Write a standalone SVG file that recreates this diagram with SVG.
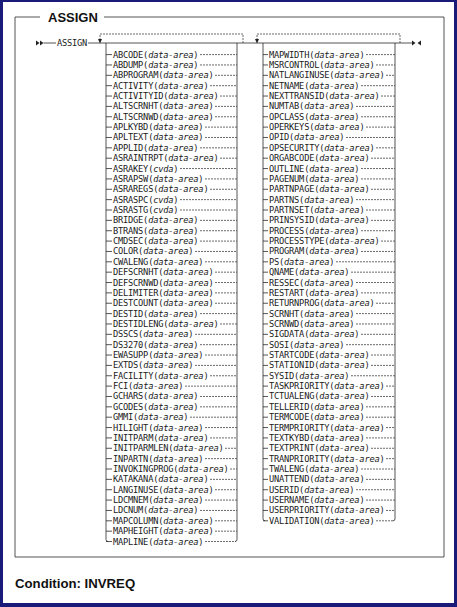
<svg xmlns="http://www.w3.org/2000/svg" width="457" height="607" viewBox="0 0 457 607">
<style>
.t{font-family:"DejaVu Sans Mono","Liberation Mono",monospace;font-size:8.7px;letter-spacing:-0.21px;fill:#1a1a1a}
.i{font-style:italic}
.ln{stroke:#2a2a2a;stroke-width:0.8;fill:none}
.tr{stroke:#444;stroke-width:0.8;fill:none;stroke-dasharray:2 1}
.ar{fill:#222}
.h{font-family:"Liberation Sans",Arial,sans-serif;font-weight:bold;fill:#111}
</style>
<defs>
<path id="lL" class="ln" d="M106 0H112"/>
<path id="lR" class="ln" d="M263 0H268"/>
</defs>
<rect x="0" y="0" width="457" height="607" fill="#1a1a78"/>
<rect x="3" y="2" width="451" height="601" fill="#fff"/>
<path class="ln" d="M40 17H15V557H444V17H104" stroke="#222" stroke-width="1"/>
<text class="h" x="48" y="22" font-size="13">ASSIGN</text>
<text class="h" x="15" y="588" font-size="13.2">Condition: INVREQ</text>
<g id="start">
<path class="ar" d="M36 40.5L39.5 43L36 45.5Z M40 40.5L43.5 43L40 45.5Z"/>
<text class="t" x="57" y="46">ASSIGN</text>
</g>
<g id="end"><path class="ar" d="M412 40.5L415.5 43L412 45.5Z M421 40.5L417.5 43L421 45.5Z"/></g>
<g id="connectors">
<path class="ln" d="M43.5 43H56 M88 43H412"/>
<path class="tr" d="M243 43V34H100V40"/>
<path class="ar" d="M98 39H102L100 43.5Z"/>
<path class="tr" d="M400 43V34H257V40"/>
<path class="ar" d="M255 39H259L257 43.5Z"/>
<path class="ln" d="M106 43V539.5Q106 541.5 108 541.5"/>
<path class="ln" d="M237 43V539.5Q237 541.5 235 541.5"/>
<path class="ln" d="M263 43V518.8Q263 520.8 265 520.8"/>
<path class="ln" d="M395 43V518.8Q395 520.8 393 520.8"/>
</g>
<g id="n-abcode" transform="translate(0,54.6)"><use href="#lL"/><text class="t" x="113" y="3">ABCODE(<tspan class="i">data-area</tspan>)</text><path class="tr" d="M200 0H237"/></g>
<g id="n-abdump" transform="translate(0,64.96)"><use href="#lL"/><text class="t" x="113" y="3">ABDUMP(<tspan class="i">data-area</tspan>)</text><path class="tr" d="M200 0H237"/></g>
<g id="n-abprogram" transform="translate(0,75.32)"><use href="#lL"/><text class="t" x="113" y="3">ABPROGRAM(<tspan class="i">data-area</tspan>)</text><path class="tr" d="M215 0H237"/></g>
<g id="n-activity" transform="translate(0,85.68)"><use href="#lL"/><text class="t" x="113" y="3">ACTIVITY(<tspan class="i">data-area</tspan>)</text><path class="tr" d="M210 0H237"/></g>
<g id="n-activityid" transform="translate(0,96.04)"><use href="#lL"/><text class="t" x="113" y="3">ACTIVITYID(<tspan class="i">data-area</tspan>)</text><path class="tr" d="M220 0H237"/></g>
<g id="n-altscrnht" transform="translate(0,106.4)"><use href="#lL"/><text class="t" x="113" y="3">ALTSCRNHT(<tspan class="i">data-area</tspan>)</text><path class="tr" d="M215 0H237"/></g>
<g id="n-altscrnwd" transform="translate(0,116.76)"><use href="#lL"/><text class="t" x="113" y="3">ALTSCRNWD(<tspan class="i">data-area</tspan>)</text><path class="tr" d="M215 0H237"/></g>
<g id="n-aplkybd" transform="translate(0,127.12)"><use href="#lL"/><text class="t" x="113" y="3">APLKYBD(<tspan class="i">data-area</tspan>)</text><path class="tr" d="M205 0H237"/></g>
<g id="n-apltext" transform="translate(0,137.48)"><use href="#lL"/><text class="t" x="113" y="3">APLTEXT(<tspan class="i">data-area</tspan>)</text><path class="tr" d="M205 0H237"/></g>
<g id="n-applid" transform="translate(0,147.84)"><use href="#lL"/><text class="t" x="113" y="3">APPLID(<tspan class="i">data-area</tspan>)</text><path class="tr" d="M200 0H237"/></g>
<g id="n-asraintrpt" transform="translate(0,158.2)"><use href="#lL"/><text class="t" x="113" y="3">ASRAINTRPT(<tspan class="i">data-area</tspan>)</text><path class="tr" d="M220 0H237"/></g>
<g id="n-asrakey" transform="translate(0,168.56)"><use href="#lL"/><text class="t" x="113" y="3">ASRAKEY(<tspan class="i">cvda</tspan>)</text><path class="tr" d="M180 0H237"/></g>
<g id="n-asrapsw" transform="translate(0,178.92)"><use href="#lL"/><text class="t" x="113" y="3">ASRAPSW(<tspan class="i">data-area</tspan>)</text><path class="tr" d="M205 0H237"/></g>
<g id="n-asraregs" transform="translate(0,189.28)"><use href="#lL"/><text class="t" x="113" y="3">ASRAREGS(<tspan class="i">data-area</tspan>)</text><path class="tr" d="M210 0H237"/></g>
<g id="n-asraspc" transform="translate(0,199.64)"><use href="#lL"/><text class="t" x="113" y="3">ASRASPC(<tspan class="i">cvda</tspan>)</text><path class="tr" d="M180 0H237"/></g>
<g id="n-asrastg" transform="translate(0,210)"><use href="#lL"/><text class="t" x="113" y="3">ASRASTG(<tspan class="i">cvda</tspan>)</text><path class="tr" d="M180 0H237"/></g>
<g id="n-bridge" transform="translate(0,220.36)"><use href="#lL"/><text class="t" x="113" y="3">BRIDGE(<tspan class="i">data-area</tspan>)</text><path class="tr" d="M200 0H237"/></g>
<g id="n-btrans" transform="translate(0,230.72)"><use href="#lL"/><text class="t" x="113" y="3">BTRANS(<tspan class="i">data-area</tspan>)</text><path class="tr" d="M200 0H237"/></g>
<g id="n-cmdsec" transform="translate(0,241.08)"><use href="#lL"/><text class="t" x="113" y="3">CMDSEC(<tspan class="i">data-area</tspan>)</text><path class="tr" d="M200 0H237"/></g>
<g id="n-color" transform="translate(0,251.44)"><use href="#lL"/><text class="t" x="113" y="3">COLOR(<tspan class="i">data-area</tspan>)</text><path class="tr" d="M195 0H237"/></g>
<g id="n-cwaleng" transform="translate(0,261.8)"><use href="#lL"/><text class="t" x="113" y="3">CWALENG(<tspan class="i">data-area</tspan>)</text><path class="tr" d="M205 0H237"/></g>
<g id="n-defscrnht" transform="translate(0,272.16)"><use href="#lL"/><text class="t" x="113" y="3">DEFSCRNHT(<tspan class="i">data-area</tspan>)</text><path class="tr" d="M215 0H237"/></g>
<g id="n-defscrnwd" transform="translate(0,282.52)"><use href="#lL"/><text class="t" x="113" y="3">DEFSCRNWD(<tspan class="i">data-area</tspan>)</text><path class="tr" d="M215 0H237"/></g>
<g id="n-delimiter" transform="translate(0,292.88)"><use href="#lL"/><text class="t" x="113" y="3">DELIMITER(<tspan class="i">data-area</tspan>)</text><path class="tr" d="M215 0H237"/></g>
<g id="n-destcount" transform="translate(0,303.24)"><use href="#lL"/><text class="t" x="113" y="3">DESTCOUNT(<tspan class="i">data-area</tspan>)</text><path class="tr" d="M215 0H237"/></g>
<g id="n-destid" transform="translate(0,313.6)"><use href="#lL"/><text class="t" x="113" y="3">DESTID(<tspan class="i">data-area</tspan>)</text><path class="tr" d="M200 0H237"/></g>
<g id="n-destidleng" transform="translate(0,323.96)"><use href="#lL"/><text class="t" x="113" y="3">DESTIDLENG(<tspan class="i">data-area</tspan>)</text><path class="tr" d="M220 0H237"/></g>
<g id="n-dsscs" transform="translate(0,334.32)"><use href="#lL"/><text class="t" x="113" y="3">DSSCS(<tspan class="i">data-area</tspan>)</text><path class="tr" d="M195 0H237"/></g>
<g id="n-ds3270" transform="translate(0,344.68)"><use href="#lL"/><text class="t" x="113" y="3">DS3270(<tspan class="i">data-area</tspan>)</text><path class="tr" d="M200 0H237"/></g>
<g id="n-ewasupp" transform="translate(0,355.04)"><use href="#lL"/><text class="t" x="113" y="3">EWASUPP(<tspan class="i">data-area</tspan>)</text><path class="tr" d="M205 0H237"/></g>
<g id="n-extds" transform="translate(0,365.4)"><use href="#lL"/><text class="t" x="113" y="3">EXTDS(<tspan class="i">data-area</tspan>)</text><path class="tr" d="M195 0H237"/></g>
<g id="n-facility" transform="translate(0,375.76)"><use href="#lL"/><text class="t" x="113" y="3">FACILITY(<tspan class="i">data-area</tspan>)</text><path class="tr" d="M210 0H237"/></g>
<g id="n-fci" transform="translate(0,386.12)"><use href="#lL"/><text class="t" x="113" y="3">FCI(<tspan class="i">data-area</tspan>)</text><path class="tr" d="M185 0H237"/></g>
<g id="n-gchars" transform="translate(0,396.48)"><use href="#lL"/><text class="t" x="113" y="3">GCHARS(<tspan class="i">data-area</tspan>)</text><path class="tr" d="M200 0H237"/></g>
<g id="n-gcodes" transform="translate(0,406.84)"><use href="#lL"/><text class="t" x="113" y="3">GCODES(<tspan class="i">data-area</tspan>)</text><path class="tr" d="M200 0H237"/></g>
<g id="n-gmmi" transform="translate(0,417.2)"><use href="#lL"/><text class="t" x="113" y="3">GMMI(<tspan class="i">data-area</tspan>)</text><path class="tr" d="M190 0H237"/></g>
<g id="n-hilight" transform="translate(0,427.56)"><use href="#lL"/><text class="t" x="113" y="3">HILIGHT(<tspan class="i">data-area</tspan>)</text><path class="tr" d="M205 0H237"/></g>
<g id="n-initparm" transform="translate(0,437.92)"><use href="#lL"/><text class="t" x="113" y="3">INITPARM(<tspan class="i">data-area</tspan>)</text><path class="tr" d="M210 0H237"/></g>
<g id="n-initparmlen" transform="translate(0,448.28)"><use href="#lL"/><text class="t" x="113" y="3">INITPARMLEN(<tspan class="i">data-area</tspan>)</text><path class="tr" d="M225 0H237"/></g>
<g id="n-inpartn" transform="translate(0,458.64)"><use href="#lL"/><text class="t" x="113" y="3">INPARTN(<tspan class="i">data-area</tspan>)</text><path class="tr" d="M205 0H237"/></g>
<g id="n-invokingprog" transform="translate(0,469)"><use href="#lL"/><text class="t" x="113" y="3">INVOKINGPROG(<tspan class="i">data-area</tspan>)</text><path class="tr" d="M230 0H237"/></g>
<g id="n-katakana" transform="translate(0,479.36)"><use href="#lL"/><text class="t" x="113" y="3">KATAKANA(<tspan class="i">data-area</tspan>)</text><path class="tr" d="M210 0H237"/></g>
<g id="n-langinuse" transform="translate(0,489.72)"><use href="#lL"/><text class="t" x="113" y="3">LANGINUSE(<tspan class="i">data-area</tspan>)</text><path class="tr" d="M215 0H237"/></g>
<g id="n-ldcmnem" transform="translate(0,500.08)"><use href="#lL"/><text class="t" x="113" y="3">LDCMNEM(<tspan class="i">data-area</tspan>)</text><path class="tr" d="M205 0H237"/></g>
<g id="n-ldcnum" transform="translate(0,510.44)"><use href="#lL"/><text class="t" x="113" y="3">LDCNUM(<tspan class="i">data-area</tspan>)</text><path class="tr" d="M200 0H237"/></g>
<g id="n-mapcolumn" transform="translate(0,520.8)"><use href="#lL"/><text class="t" x="113" y="3">MAPCOLUMN(<tspan class="i">data-area</tspan>)</text><path class="tr" d="M215 0H237"/></g>
<g id="n-mapheight" transform="translate(0,531.16)"><use href="#lL"/><text class="t" x="113" y="3">MAPHEIGHT(<tspan class="i">data-area</tspan>)</text><path class="tr" d="M215 0H237"/></g>
<g id="n-mapline" transform="translate(0,541.52)"><use href="#lL"/><text class="t" x="113" y="3">MAPLINE(<tspan class="i">data-area</tspan>)</text><path class="tr" d="M205 0H236"/></g>
<g id="n-mapwidth" transform="translate(0,54.6)"><use href="#lR"/><text class="t" x="269" y="3">MAPWIDTH(<tspan class="i">data-area</tspan>)</text><path class="tr" d="M366 0H395"/></g>
<g id="n-msrcontrol" transform="translate(0,64.96)"><use href="#lR"/><text class="t" x="269" y="3">MSRCONTROL(<tspan class="i">data-area</tspan>)</text><path class="tr" d="M376 0H395"/></g>
<g id="n-natlanginuse" transform="translate(0,75.32)"><use href="#lR"/><text class="t" x="269" y="3">NATLANGINUSE(<tspan class="i">data-area</tspan>)</text><path class="tr" d="M386 0H395"/></g>
<g id="n-netname" transform="translate(0,85.68)"><use href="#lR"/><text class="t" x="269" y="3">NETNAME(<tspan class="i">data-area</tspan>)</text><path class="tr" d="M361 0H395"/></g>
<g id="n-nexttransid" transform="translate(0,96.04)"><use href="#lR"/><text class="t" x="269" y="3">NEXTTRANSID(<tspan class="i">data-area</tspan>)</text><path class="tr" d="M381 0H395"/></g>
<g id="n-numtab" transform="translate(0,106.4)"><use href="#lR"/><text class="t" x="269" y="3">NUMTAB(<tspan class="i">data-area</tspan>)</text><path class="tr" d="M356 0H395"/></g>
<g id="n-opclass" transform="translate(0,116.76)"><use href="#lR"/><text class="t" x="269" y="3">OPCLASS(<tspan class="i">data-area</tspan>)</text><path class="tr" d="M361 0H395"/></g>
<g id="n-operkeys" transform="translate(0,127.12)"><use href="#lR"/><text class="t" x="269" y="3">OPERKEYS(<tspan class="i">data-area</tspan>)</text><path class="tr" d="M366 0H395"/></g>
<g id="n-opid" transform="translate(0,137.48)"><use href="#lR"/><text class="t" x="269" y="3">OPID(<tspan class="i">data-area</tspan>)</text><path class="tr" d="M346 0H395"/></g>
<g id="n-opsecurity" transform="translate(0,147.84)"><use href="#lR"/><text class="t" x="269" y="3">OPSECURITY(<tspan class="i">data-area</tspan>)</text><path class="tr" d="M376 0H395"/></g>
<g id="n-orgabcode" transform="translate(0,158.2)"><use href="#lR"/><text class="t" x="269" y="3">ORGABCODE(<tspan class="i">data-area</tspan>)</text><path class="tr" d="M371 0H395"/></g>
<g id="n-outline" transform="translate(0,168.56)"><use href="#lR"/><text class="t" x="269" y="3">OUTLINE(<tspan class="i">data-area</tspan>)</text><path class="tr" d="M361 0H395"/></g>
<g id="n-pagenum" transform="translate(0,178.92)"><use href="#lR"/><text class="t" x="269" y="3">PAGENUM(<tspan class="i">data-area</tspan>)</text><path class="tr" d="M361 0H395"/></g>
<g id="n-partnpage" transform="translate(0,189.28)"><use href="#lR"/><text class="t" x="269" y="3">PARTNPAGE(<tspan class="i">data-area</tspan>)</text><path class="tr" d="M371 0H395"/></g>
<g id="n-partns" transform="translate(0,199.64)"><use href="#lR"/><text class="t" x="269" y="3">PARTNS(<tspan class="i">data-area</tspan>)</text><path class="tr" d="M356 0H395"/></g>
<g id="n-partnset" transform="translate(0,210)"><use href="#lR"/><text class="t" x="269" y="3">PARTNSET(<tspan class="i">data-area</tspan>)</text><path class="tr" d="M366 0H395"/></g>
<g id="n-prinsysid" transform="translate(0,220.36)"><use href="#lR"/><text class="t" x="269" y="3">PRINSYSID(<tspan class="i">data-area</tspan>)</text><path class="tr" d="M371 0H395"/></g>
<g id="n-process" transform="translate(0,230.72)"><use href="#lR"/><text class="t" x="269" y="3">PROCESS(<tspan class="i">data-area</tspan>)</text><path class="tr" d="M361 0H395"/></g>
<g id="n-processtype" transform="translate(0,241.08)"><use href="#lR"/><text class="t" x="269" y="3">PROCESSTYPE(<tspan class="i">data-area</tspan>)</text><path class="tr" d="M381 0H395"/></g>
<g id="n-program" transform="translate(0,251.44)"><use href="#lR"/><text class="t" x="269" y="3">PROGRAM(<tspan class="i">data-area</tspan>)</text><path class="tr" d="M361 0H395"/></g>
<g id="n-ps" transform="translate(0,261.8)"><use href="#lR"/><text class="t" x="269" y="3">PS(<tspan class="i">data-area</tspan>)</text><path class="tr" d="M336 0H395"/></g>
<g id="n-qname" transform="translate(0,272.16)"><use href="#lR"/><text class="t" x="269" y="3">QNAME(<tspan class="i">data-area</tspan>)</text><path class="tr" d="M351 0H395"/></g>
<g id="n-ressec" transform="translate(0,282.52)"><use href="#lR"/><text class="t" x="269" y="3">RESSEC(<tspan class="i">data-area</tspan>)</text><path class="tr" d="M356 0H395"/></g>
<g id="n-restart" transform="translate(0,292.88)"><use href="#lR"/><text class="t" x="269" y="3">RESTART(<tspan class="i">data-area</tspan>)</text><path class="tr" d="M361 0H395"/></g>
<g id="n-returnprog" transform="translate(0,303.24)"><use href="#lR"/><text class="t" x="269" y="3">RETURNPROG(<tspan class="i">data-area</tspan>)</text><path class="tr" d="M376 0H395"/></g>
<g id="n-scrnht" transform="translate(0,313.6)"><use href="#lR"/><text class="t" x="269" y="3">SCRNHT(<tspan class="i">data-area</tspan>)</text><path class="tr" d="M356 0H395"/></g>
<g id="n-scrnwd" transform="translate(0,323.96)"><use href="#lR"/><text class="t" x="269" y="3">SCRNWD(<tspan class="i">data-area</tspan>)</text><path class="tr" d="M356 0H395"/></g>
<g id="n-sigdata" transform="translate(0,334.32)"><use href="#lR"/><text class="t" x="269" y="3">SIGDATA(<tspan class="i">data-area</tspan>)</text><path class="tr" d="M361 0H395"/></g>
<g id="n-sosi" transform="translate(0,344.68)"><use href="#lR"/><text class="t" x="269" y="3">SOSI(<tspan class="i">data-area</tspan>)</text><path class="tr" d="M346 0H395"/></g>
<g id="n-startcode" transform="translate(0,355.04)"><use href="#lR"/><text class="t" x="269" y="3">STARTCODE(<tspan class="i">data-area</tspan>)</text><path class="tr" d="M371 0H395"/></g>
<g id="n-stationid" transform="translate(0,365.4)"><use href="#lR"/><text class="t" x="269" y="3">STATIONID(<tspan class="i">data-area</tspan>)</text><path class="tr" d="M371 0H395"/></g>
<g id="n-sysid" transform="translate(0,375.76)"><use href="#lR"/><text class="t" x="269" y="3">SYSID(<tspan class="i">data-area</tspan>)</text><path class="tr" d="M351 0H395"/></g>
<g id="n-taskpriority" transform="translate(0,386.12)"><use href="#lR"/><text class="t" x="269" y="3">TASKPRIORITY(<tspan class="i">data-area</tspan>)</text><path class="tr" d="M386 0H395"/></g>
<g id="n-tctualeng" transform="translate(0,396.48)"><use href="#lR"/><text class="t" x="269" y="3">TCTUALENG(<tspan class="i">data-area</tspan>)</text><path class="tr" d="M371 0H395"/></g>
<g id="n-tellerid" transform="translate(0,406.84)"><use href="#lR"/><text class="t" x="269" y="3">TELLERID(<tspan class="i">data-area</tspan>)</text><path class="tr" d="M366 0H395"/></g>
<g id="n-termcode" transform="translate(0,417.2)"><use href="#lR"/><text class="t" x="269" y="3">TERMCODE(<tspan class="i">data-area</tspan>)</text><path class="tr" d="M366 0H395"/></g>
<g id="n-termpriority" transform="translate(0,427.56)"><use href="#lR"/><text class="t" x="269" y="3">TERMPRIORITY(<tspan class="i">data-area</tspan>)</text><path class="tr" d="M386 0H395"/></g>
<g id="n-textkybd" transform="translate(0,437.92)"><use href="#lR"/><text class="t" x="269" y="3">TEXTKYBD(<tspan class="i">data-area</tspan>)</text><path class="tr" d="M366 0H395"/></g>
<g id="n-textprint" transform="translate(0,448.28)"><use href="#lR"/><text class="t" x="269" y="3">TEXTPRINT(<tspan class="i">data-area</tspan>)</text><path class="tr" d="M371 0H395"/></g>
<g id="n-tranpriority" transform="translate(0,458.64)"><use href="#lR"/><text class="t" x="269" y="3">TRANPRIORITY(<tspan class="i">data-area</tspan>)</text><path class="tr" d="M386 0H395"/></g>
<g id="n-twaleng" transform="translate(0,469)"><use href="#lR"/><text class="t" x="269" y="3">TWALENG(<tspan class="i">data-area</tspan>)</text><path class="tr" d="M361 0H395"/></g>
<g id="n-unattend" transform="translate(0,479.36)"><use href="#lR"/><text class="t" x="269" y="3">UNATTEND(<tspan class="i">data-area</tspan>)</text><path class="tr" d="M366 0H395"/></g>
<g id="n-userid" transform="translate(0,489.72)"><use href="#lR"/><text class="t" x="269" y="3">USERID(<tspan class="i">data-area</tspan>)</text><path class="tr" d="M356 0H395"/></g>
<g id="n-username" transform="translate(0,500.08)"><use href="#lR"/><text class="t" x="269" y="3">USERNAME(<tspan class="i">data-area</tspan>)</text><path class="tr" d="M366 0H395"/></g>
<g id="n-userpriority" transform="translate(0,510.44)"><use href="#lR"/><text class="t" x="269" y="3">USERPRIORITY(<tspan class="i">data-area</tspan>)</text><path class="tr" d="M386 0H395"/></g>
<g id="n-validation" transform="translate(0,520.8)"><use href="#lR"/><text class="t" x="269" y="3">VALIDATION(<tspan class="i">data-area</tspan>)</text><path class="tr" d="M376 0H394"/></g>
</svg>
